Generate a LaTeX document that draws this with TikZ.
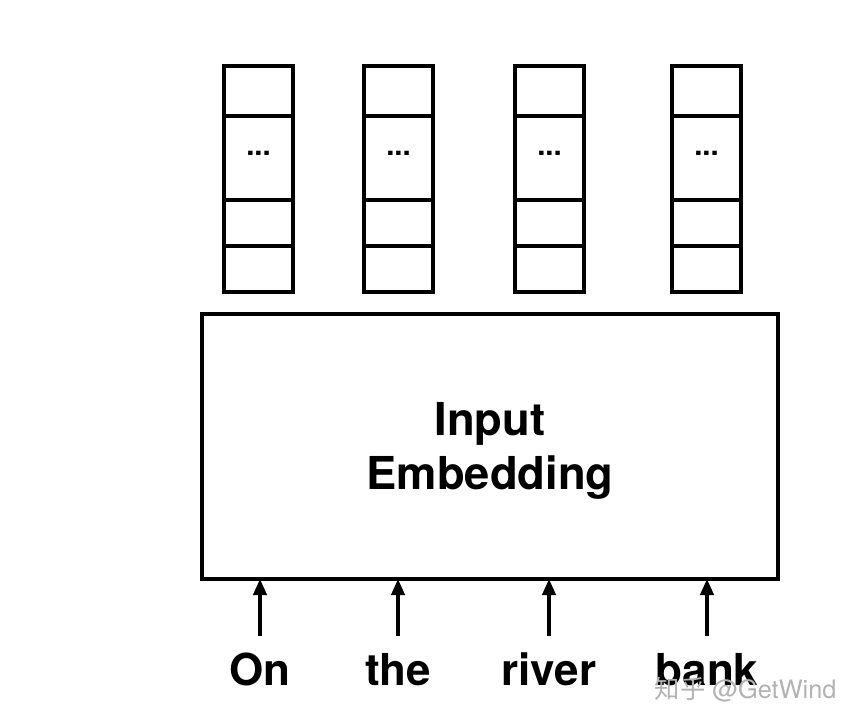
\documentclass[tikz,border=0pt]{standalone}
\usepackage{fontspec}
\setmainfont{TeX Gyre Heros}
\newfontfamily\cjk{Noto Sans CJK SC}
\usetikzlibrary{arrows.meta}
\begin{document}
\begin{tikzpicture}[x=0.75pt,y=-0.75pt,
  cell/.style={draw,line width=2.6pt},
  word/.style={font=\fontsize{33}{36}\selectfont\bfseries},
  arr/.style={line width=2.3pt,-{Triangle[length=12pt,width=10pt]}}]
\useasboundingbox (0,0) rectangle (860,726);
\foreach \x/\n in {224/a,364/b,515/c,672/d}{
  \draw[cell] (\x,66) rectangle ++(69,226);
  \foreach \y in {116,200,246} \draw[cell] (\x,\y) -- ++(69,0);
  \node[font=\fontsize{22}{22}\selectfont\bfseries] (dots\n) at (\x+34.5,153) {...};
}
\node[draw,line width=2.6pt,minimum width=432pt,minimum height=198.75pt,inner sep=0pt] (emb) at (490,446.5) {};
\node[font=\fontsize{34}{41}\selectfont\bfseries,align=center] (lbl) at (490,451) {Input\\Embedding};
\foreach \x/\w/\n in {260/On/a,398/the/b,549/river/c,707/bank/d}{
  \node[word,anchor=base] (w\n) at (\x,685) {\w};
  \coordinate (s\n) at (\x,636);
  \draw[arr] (s\n) -- (\x,579);
}
\node[text=gray!60,font=\fontsize{19}{20}\selectfont,anchor=base west] (wm) at (650,698) {{\cjk 知乎} @GetWind};
\end{tikzpicture}
\end{document}
